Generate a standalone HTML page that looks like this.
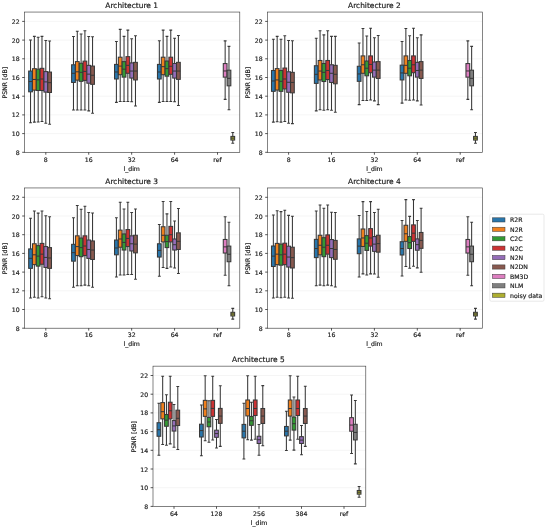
<!DOCTYPE html>
<html><head><meta charset="utf-8"><title>PSNR box plots</title>
<style>html,body{margin:0;padding:0;background:#fff}svg{display:block}</style></head>
<body>
<svg width="550" height="528" viewBox="0 0 550 528" font-family="'DejaVu Sans', 'Liberation Sans', sans-serif" font-size="6.20" fill="#1a1a1a" stroke="#1a1a1a" stroke-width="0.18">
<rect width="550" height="528" fill="#fff" stroke="none"/>
<g>
<line x1="24.60" x2="239.80" y1="152.30" y2="152.30" stroke="#efefef" stroke-width="0.6"/>
<line x1="24.60" x2="239.80" y1="133.60" y2="133.60" stroke="#efefef" stroke-width="0.6"/>
<line x1="24.60" x2="239.80" y1="114.90" y2="114.90" stroke="#efefef" stroke-width="0.6"/>
<line x1="24.60" x2="239.80" y1="96.20" y2="96.20" stroke="#efefef" stroke-width="0.6"/>
<line x1="24.60" x2="239.80" y1="77.50" y2="77.50" stroke="#efefef" stroke-width="0.6"/>
<line x1="24.60" x2="239.80" y1="58.80" y2="58.80" stroke="#efefef" stroke-width="0.6"/>
<line x1="24.60" x2="239.80" y1="40.10" y2="40.10" stroke="#efefef" stroke-width="0.6"/>
<line x1="24.60" x2="239.80" y1="21.40" y2="21.40" stroke="#efefef" stroke-width="0.6"/>
<g stroke="#383838" stroke-width="1.05" fill="none">
<path d="M30.54 40.01V71.05M30.54 91.81V122.66M29.12 40.01H31.96M29.12 122.66H31.96"/>
<rect x="28.67" y="71.05" width="3.74" height="20.76" fill="#2976ab"/>
<path d="M28.67 81.52H32.41"/>
</g>
<g stroke="#383838" stroke-width="1.05" fill="none">
<path d="M34.35 36.36V68.71M34.35 90.12V122.10M32.93 36.36H35.77M32.93 122.10H35.77"/>
<rect x="32.48" y="68.71" width="3.74" height="21.41" fill="#f0801d"/>
<path d="M32.48 79.46H36.22"/>
</g>
<g stroke="#383838" stroke-width="1.05" fill="none">
<path d="M38.17 37.30V69.18M38.17 90.50V121.91M36.75 37.30H39.59M36.75 121.91H39.59"/>
<rect x="36.30" y="69.18" width="3.74" height="21.32" fill="#339933"/>
<path d="M36.30 79.84H40.04"/>
</g>
<g stroke="#383838" stroke-width="1.05" fill="none">
<path d="M41.98 36.36V68.34M41.98 90.50V121.54M40.56 36.36H43.40M40.56 121.54H43.40"/>
<rect x="40.11" y="68.34" width="3.74" height="22.16" fill="#cb3233"/>
<path d="M40.11 79.00H43.85"/>
</g>
<g stroke="#383838" stroke-width="1.05" fill="none">
<path d="M45.80 40.47V71.61M45.80 92.09V123.32M44.38 40.47H47.22M44.38 123.32H47.22"/>
<rect x="43.93" y="71.61" width="3.74" height="20.48" fill="#946db8"/>
<path d="M43.93 81.89H47.67"/>
</g>
<g stroke="#383838" stroke-width="1.05" fill="none">
<path d="M49.62 40.94V72.08M49.62 92.46V124.16M48.20 40.94H51.04M48.20 124.16H51.04"/>
<rect x="47.75" y="72.08" width="3.74" height="20.38" fill="#88594f"/>
<path d="M47.75 82.64H51.49"/>
</g>
<g stroke="#383838" stroke-width="1.05" fill="none">
<path d="M73.47 36.55V64.78M73.47 82.46V109.94M72.05 36.55H74.89M72.05 109.94H74.89"/>
<rect x="71.60" y="64.78" width="3.74" height="17.67" fill="#2976ab"/>
<path d="M71.60 73.29H75.34"/>
</g>
<g stroke="#383838" stroke-width="1.05" fill="none">
<path d="M77.28 31.22V61.61M77.28 80.12V109.94M75.86 31.22H78.70M75.86 109.94H78.70"/>
<rect x="75.41" y="61.61" width="3.74" height="18.51" fill="#f0801d"/>
<path d="M75.41 71.80H79.15"/>
</g>
<g stroke="#383838" stroke-width="1.05" fill="none">
<path d="M81.10 33.93V63.29M81.10 81.33V109.94M79.68 33.93H82.52M79.68 109.94H82.52"/>
<rect x="79.23" y="63.29" width="3.74" height="18.05" fill="#339933"/>
<path d="M79.23 72.36H82.97"/>
</g>
<g stroke="#383838" stroke-width="1.05" fill="none">
<path d="M84.91 30.84V61.14M84.91 80.40V109.94M83.49 30.84H86.33M83.49 109.94H86.33"/>
<rect x="83.04" y="61.14" width="3.74" height="19.26" fill="#cb3233"/>
<path d="M83.04 71.42H86.78"/>
</g>
<g stroke="#383838" stroke-width="1.05" fill="none">
<path d="M88.73 36.55V65.35M88.73 83.20V110.88M87.31 36.55H90.15M87.31 110.88H90.15"/>
<rect x="86.86" y="65.35" width="3.74" height="17.86" fill="#946db8"/>
<path d="M86.86 74.13H90.60"/>
</g>
<g stroke="#383838" stroke-width="1.05" fill="none">
<path d="M92.55 36.73V66.09M92.55 84.33V113.31M91.13 36.73H93.97M91.13 113.31H93.97"/>
<rect x="90.68" y="66.09" width="3.74" height="18.23" fill="#88594f"/>
<path d="M90.68 75.26H94.42"/>
</g>
<g stroke="#383838" stroke-width="1.05" fill="none">
<path d="M116.40 41.50V64.41M116.40 79.00V102.37M114.98 41.50H117.82M114.98 102.37H117.82"/>
<rect x="114.53" y="64.41" width="3.74" height="14.59" fill="#2976ab"/>
<path d="M114.53 71.98H118.27"/>
</g>
<g stroke="#383838" stroke-width="1.05" fill="none">
<path d="M120.21 29.35V57.21M120.21 74.70V101.44M118.79 29.35H121.63M118.79 101.44H121.63"/>
<rect x="118.34" y="57.21" width="3.74" height="17.48" fill="#f0801d"/>
<path d="M118.34 66.09H122.08"/>
</g>
<g stroke="#383838" stroke-width="1.05" fill="none">
<path d="M124.03 36.36V61.61M124.03 77.13V101.44M122.61 36.36H125.45M122.61 101.44H125.45"/>
<rect x="122.16" y="61.61" width="3.74" height="15.52" fill="#339933"/>
<path d="M122.16 69.18H125.90"/>
</g>
<g stroke="#383838" stroke-width="1.05" fill="none">
<path d="M127.84 30.10V56.65M127.84 73.29V101.44M126.42 30.10H129.26M126.42 101.44H129.26"/>
<rect x="125.97" y="56.65" width="3.74" height="16.64" fill="#cb3233"/>
<path d="M125.97 65.35H129.71"/>
</g>
<g stroke="#383838" stroke-width="1.05" fill="none">
<path d="M131.66 38.79V62.91M131.66 78.06V101.81M130.24 38.79H133.08M130.24 101.81H133.08"/>
<rect x="129.79" y="62.91" width="3.74" height="15.15" fill="#946db8"/>
<path d="M129.79 71.05H133.53"/>
</g>
<g stroke="#383838" stroke-width="1.05" fill="none">
<path d="M135.48 35.80V62.35M135.48 79.93V105.92M134.06 35.80H136.90M134.06 105.92H136.90"/>
<rect x="133.61" y="62.35" width="3.74" height="17.58" fill="#88594f"/>
<path d="M133.61 71.05H137.35"/>
</g>
<g stroke="#383838" stroke-width="1.05" fill="none">
<path d="M159.33 40.75V64.41M159.33 79.00V102.37M157.91 40.75H160.75M157.91 102.37H160.75"/>
<rect x="157.46" y="64.41" width="3.74" height="14.59" fill="#2976ab"/>
<path d="M157.46 71.98H161.20"/>
</g>
<g stroke="#383838" stroke-width="1.05" fill="none">
<path d="M163.14 30.10V57.21M163.14 74.70V101.44M161.72 30.10H164.56M161.72 101.44H164.56"/>
<rect x="161.27" y="57.21" width="3.74" height="17.48" fill="#f0801d"/>
<path d="M161.27 66.65H165.01"/>
</g>
<g stroke="#383838" stroke-width="1.05" fill="none">
<path d="M166.96 36.36V61.04M166.96 76.19V101.44M165.54 36.36H168.38M165.54 101.44H168.38"/>
<rect x="165.09" y="61.04" width="3.74" height="15.15" fill="#339933"/>
<path d="M165.09 68.62H168.83"/>
</g>
<g stroke="#383838" stroke-width="1.05" fill="none">
<path d="M170.77 30.10V57.21M170.77 74.32V101.44M169.35 30.10H172.19M169.35 101.44H172.19"/>
<rect x="168.90" y="57.21" width="3.74" height="17.11" fill="#cb3233"/>
<path d="M168.90 66.28H172.64"/>
</g>
<g stroke="#383838" stroke-width="1.05" fill="none">
<path d="M174.59 38.23V63.48M174.59 78.06V101.81M173.17 38.23H176.01M173.17 101.81H176.01"/>
<rect x="172.72" y="63.48" width="3.74" height="14.59" fill="#946db8"/>
<path d="M172.72 71.05H176.46"/>
</g>
<g stroke="#383838" stroke-width="1.05" fill="none">
<path d="M178.41 35.43V62.35M178.41 79.37V105.55M176.99 35.43H179.83M176.99 105.55H179.83"/>
<rect x="176.54" y="62.35" width="3.74" height="17.02" fill="#88594f"/>
<path d="M176.54 71.05H180.28"/>
</g>
<g stroke="#383838" stroke-width="1.05" fill="none">
<path d="M225.15 40.85V63.57M225.15 77.13V99.38M223.73 40.85H226.57M223.73 99.38H226.57"/>
<rect x="223.28" y="63.57" width="3.74" height="13.56" fill="#dd7ec0"/>
<path d="M223.28 70.96H227.02"/>
</g>
<g stroke="#383838" stroke-width="1.05" fill="none">
<path d="M228.97 46.36V70.21M228.97 85.82V109.76M227.55 46.36H230.39M227.55 109.76H230.39"/>
<rect x="227.10" y="70.21" width="3.74" height="15.61" fill="#7f7f7f"/>
<path d="M227.10 78.34H230.84"/>
</g>
<g stroke="#383838" stroke-width="1.05" fill="none">
<path d="M232.78 132.48V136.41M232.78 140.05V143.23M231.36 132.48H234.20M231.36 143.23H234.20"/>
<rect x="230.91" y="136.41" width="3.74" height="3.65" fill="#adae30"/>
<path d="M230.91 138.09H234.65"/>
</g>
<rect x="24.60" y="12.05" width="215.20" height="140.25" fill="none" stroke="#333" stroke-width="0.6"/>
<line x1="22.20" x2="24.60" y1="152.30" y2="152.30" stroke="#2a2a2a" stroke-width="0.8"/>
<text x="19.70" y="154.85" text-anchor="end">8</text>
<line x1="22.20" x2="24.60" y1="133.60" y2="133.60" stroke="#2a2a2a" stroke-width="0.8"/>
<text x="19.70" y="136.15" text-anchor="end">10</text>
<line x1="22.20" x2="24.60" y1="114.90" y2="114.90" stroke="#2a2a2a" stroke-width="0.8"/>
<text x="19.70" y="117.45" text-anchor="end">12</text>
<line x1="22.20" x2="24.60" y1="96.20" y2="96.20" stroke="#2a2a2a" stroke-width="0.8"/>
<text x="19.70" y="98.75" text-anchor="end">14</text>
<line x1="22.20" x2="24.60" y1="77.50" y2="77.50" stroke="#2a2a2a" stroke-width="0.8"/>
<text x="19.70" y="80.05" text-anchor="end">16</text>
<line x1="22.20" x2="24.60" y1="58.80" y2="58.80" stroke="#2a2a2a" stroke-width="0.8"/>
<text x="19.70" y="61.35" text-anchor="end">18</text>
<line x1="22.20" x2="24.60" y1="40.10" y2="40.10" stroke="#2a2a2a" stroke-width="0.8"/>
<text x="19.70" y="42.65" text-anchor="end">20</text>
<line x1="22.20" x2="24.60" y1="21.40" y2="21.40" stroke="#2a2a2a" stroke-width="0.8"/>
<text x="19.70" y="23.95" text-anchor="end">22</text>
<line x1="45.80" x2="45.80" y1="152.30" y2="154.70" stroke="#2a2a2a" stroke-width="0.8"/>
<text x="45.80" y="161.70" text-anchor="middle">8</text>
<line x1="88.73" x2="88.73" y1="152.30" y2="154.70" stroke="#2a2a2a" stroke-width="0.8"/>
<text x="88.73" y="161.70" text-anchor="middle">16</text>
<line x1="131.66" x2="131.66" y1="152.30" y2="154.70" stroke="#2a2a2a" stroke-width="0.8"/>
<text x="131.66" y="161.70" text-anchor="middle">32</text>
<line x1="174.59" x2="174.59" y1="152.30" y2="154.70" stroke="#2a2a2a" stroke-width="0.8"/>
<text x="174.59" y="161.70" text-anchor="middle">64</text>
<line x1="217.52" x2="217.52" y1="152.30" y2="154.70" stroke="#2a2a2a" stroke-width="0.8"/>
<text x="217.52" y="161.70" text-anchor="middle">ref</text>
<text x="131.66" y="170.50" text-anchor="middle">l_dim</text>
<text transform="translate(7.40 82.68) rotate(-90)" text-anchor="middle">PSNR [dB]</text>
<text x="131.66" y="8.35" text-anchor="middle" font-size="7.45">Architecture 1</text>
</g>
<g>
<line x1="267.60" x2="482.30" y1="152.30" y2="152.30" stroke="#efefef" stroke-width="0.6"/>
<line x1="267.60" x2="482.30" y1="133.60" y2="133.60" stroke="#efefef" stroke-width="0.6"/>
<line x1="267.60" x2="482.30" y1="114.90" y2="114.90" stroke="#efefef" stroke-width="0.6"/>
<line x1="267.60" x2="482.30" y1="96.20" y2="96.20" stroke="#efefef" stroke-width="0.6"/>
<line x1="267.60" x2="482.30" y1="77.50" y2="77.50" stroke="#efefef" stroke-width="0.6"/>
<line x1="267.60" x2="482.30" y1="58.80" y2="58.80" stroke="#efefef" stroke-width="0.6"/>
<line x1="267.60" x2="482.30" y1="40.10" y2="40.10" stroke="#efefef" stroke-width="0.6"/>
<line x1="267.60" x2="482.30" y1="21.40" y2="21.40" stroke="#efefef" stroke-width="0.6"/>
<g stroke="#383838" stroke-width="1.05" fill="none">
<path d="M273.35 39.17V70.49M273.35 91.34V122.10M271.93 39.17H274.77M271.93 122.10H274.77"/>
<rect x="271.48" y="70.49" width="3.74" height="20.85" fill="#2976ab"/>
<path d="M271.48 80.96H275.22"/>
</g>
<g stroke="#383838" stroke-width="1.05" fill="none">
<path d="M277.16 36.36V68.62M277.16 90.03V121.73M275.74 36.36H278.58M275.74 121.73H278.58"/>
<rect x="275.29" y="68.62" width="3.74" height="21.41" fill="#f0801d"/>
<path d="M275.29 79.93H279.03"/>
</g>
<g stroke="#383838" stroke-width="1.05" fill="none">
<path d="M280.97 39.17V70.49M280.97 91.34V122.10M279.55 39.17H282.39M279.55 122.10H282.39"/>
<rect x="279.10" y="70.49" width="3.74" height="20.85" fill="#339933"/>
<path d="M279.10 81.33H282.84"/>
</g>
<g stroke="#383838" stroke-width="1.05" fill="none">
<path d="M284.79 35.80V68.06M284.79 88.91V121.54M283.37 35.80H286.21M283.37 121.54H286.21"/>
<rect x="282.92" y="68.06" width="3.74" height="20.85" fill="#cb3233"/>
<path d="M282.92 79.00H286.66"/>
</g>
<g stroke="#383838" stroke-width="1.05" fill="none">
<path d="M288.60 40.47V71.80M288.60 92.27V123.22M287.18 40.47H290.02M287.18 123.22H290.02"/>
<rect x="286.73" y="71.80" width="3.74" height="20.48" fill="#946db8"/>
<path d="M286.73 82.27H290.47"/>
</g>
<g stroke="#383838" stroke-width="1.05" fill="none">
<path d="M292.41 40.75V72.36M292.41 92.83V123.60M290.99 40.75H293.83M290.99 123.60H293.83"/>
<rect x="290.54" y="72.36" width="3.74" height="20.48" fill="#88594f"/>
<path d="M290.54 82.46H294.28"/>
</g>
<g stroke="#383838" stroke-width="1.05" fill="none">
<path d="M316.25 38.23V65.72M316.25 83.39V110.88M314.83 38.23H317.67M314.83 110.88H317.67"/>
<rect x="314.38" y="65.72" width="3.74" height="17.67" fill="#2976ab"/>
<path d="M314.38 74.32H318.12"/>
</g>
<g stroke="#383838" stroke-width="1.05" fill="none">
<path d="M320.06 30.66V60.48M320.06 79.93V109.76M318.64 30.66H321.48M318.64 109.76H321.48"/>
<rect x="318.19" y="60.48" width="3.74" height="19.45" fill="#f0801d"/>
<path d="M318.19 71.05H321.93"/>
</g>
<g stroke="#383838" stroke-width="1.05" fill="none">
<path d="M323.87 34.86V63.48M323.87 81.52V110.32M322.45 34.86H325.29M322.45 110.32H325.29"/>
<rect x="322.00" y="63.48" width="3.74" height="18.05" fill="#339933"/>
<path d="M322.00 72.36H325.74"/>
</g>
<g stroke="#383838" stroke-width="1.05" fill="none">
<path d="M327.69 30.66V60.48M327.69 79.56V109.76M326.27 30.66H329.11M326.27 109.76H329.11"/>
<rect x="325.82" y="60.48" width="3.74" height="19.07" fill="#cb3233"/>
<path d="M325.82 70.49H329.56"/>
</g>
<g stroke="#383838" stroke-width="1.05" fill="none">
<path d="M331.50 36.36V64.78M331.50 82.46V110.32M330.08 36.36H332.92M330.08 110.32H332.92"/>
<rect x="329.63" y="64.78" width="3.74" height="17.67" fill="#946db8"/>
<path d="M329.63 73.29H333.37"/>
</g>
<g stroke="#383838" stroke-width="1.05" fill="none">
<path d="M335.31 36.36V65.35M335.31 83.76V112.19M333.89 36.36H336.73M333.89 112.19H336.73"/>
<rect x="333.44" y="65.35" width="3.74" height="18.42" fill="#88594f"/>
<path d="M333.44 74.32H337.18"/>
</g>
<g stroke="#383838" stroke-width="1.05" fill="none">
<path d="M359.15 43.00V66.28M359.15 81.33V104.62M357.73 43.00H360.57M357.73 104.62H360.57"/>
<rect x="357.28" y="66.28" width="3.74" height="15.05" fill="#2976ab"/>
<path d="M357.28 73.95H361.02"/>
</g>
<g stroke="#383838" stroke-width="1.05" fill="none">
<path d="M362.96 28.41V55.90M362.96 73.29V100.50M361.54 28.41H364.38M361.54 100.50H364.38"/>
<rect x="361.09" y="55.90" width="3.74" height="17.39" fill="#f0801d"/>
<path d="M361.09 64.78H364.83"/>
</g>
<g stroke="#383838" stroke-width="1.05" fill="none">
<path d="M366.77 35.99V61.04M366.77 75.82V100.50M365.35 35.99H368.19M365.35 100.50H368.19"/>
<rect x="364.90" y="61.04" width="3.74" height="14.77" fill="#339933"/>
<path d="M364.90 68.24H368.64"/>
</g>
<g stroke="#383838" stroke-width="1.05" fill="none">
<path d="M370.59 28.23V55.90M370.59 72.73V99.94M369.17 28.23H372.01M369.17 99.94H372.01"/>
<rect x="368.72" y="55.90" width="3.74" height="16.83" fill="#cb3233"/>
<path d="M368.72 64.41H372.46"/>
</g>
<g stroke="#383838" stroke-width="1.05" fill="none">
<path d="M374.40 37.67V61.98M374.40 77.13V100.88M372.98 37.67H375.82M372.98 100.88H375.82"/>
<rect x="372.53" y="61.98" width="3.74" height="15.15" fill="#946db8"/>
<path d="M372.53 70.11H376.27"/>
</g>
<g stroke="#383838" stroke-width="1.05" fill="none">
<path d="M378.21 35.43V61.61M378.21 78.44V104.62M376.79 35.43H379.63M376.79 104.62H379.63"/>
<rect x="376.34" y="61.61" width="3.74" height="16.83" fill="#88594f"/>
<path d="M376.34 70.11H380.08"/>
</g>
<g stroke="#383838" stroke-width="1.05" fill="none">
<path d="M402.05 41.50V65.16M402.05 79.93V103.12M400.63 41.50H403.47M400.63 103.12H403.47"/>
<rect x="400.18" y="65.16" width="3.74" height="14.77" fill="#2976ab"/>
<path d="M400.18 72.92H403.92"/>
</g>
<g stroke="#383838" stroke-width="1.05" fill="none">
<path d="M405.86 28.41V55.90M405.86 73.29V99.94M404.44 28.41H407.28M404.44 99.94H407.28"/>
<rect x="403.99" y="55.90" width="3.74" height="17.39" fill="#f0801d"/>
<path d="M403.99 65.35H407.73"/>
</g>
<g stroke="#383838" stroke-width="1.05" fill="none">
<path d="M409.67 35.80V60.48M409.67 75.82V100.31M408.25 35.80H411.09M408.25 100.31H411.09"/>
<rect x="407.80" y="60.48" width="3.74" height="15.33" fill="#339933"/>
<path d="M407.80 68.24H411.54"/>
</g>
<g stroke="#383838" stroke-width="1.05" fill="none">
<path d="M413.49 28.23V55.90M413.49 72.73V99.94M412.07 28.23H414.91M412.07 99.94H414.91"/>
<rect x="411.62" y="55.90" width="3.74" height="16.83" fill="#cb3233"/>
<path d="M411.62 64.78H415.36"/>
</g>
<g stroke="#383838" stroke-width="1.05" fill="none">
<path d="M417.30 37.67V62.35M417.30 77.13V100.88M415.88 37.67H418.72M415.88 100.88H418.72"/>
<rect x="415.43" y="62.35" width="3.74" height="14.77" fill="#946db8"/>
<path d="M415.43 70.49H419.17"/>
</g>
<g stroke="#383838" stroke-width="1.05" fill="none">
<path d="M421.11 34.86V61.61M421.11 78.44V104.99M419.69 34.86H422.53M419.69 104.99H422.53"/>
<rect x="419.24" y="61.61" width="3.74" height="16.83" fill="#88594f"/>
<path d="M419.24 70.11H422.98"/>
</g>
<g stroke="#383838" stroke-width="1.05" fill="none">
<path d="M467.83 40.85V63.57M467.83 77.13V99.38M466.41 40.85H469.25M466.41 99.38H469.25"/>
<rect x="465.96" y="63.57" width="3.74" height="13.56" fill="#dd7ec0"/>
<path d="M465.96 70.96H469.70"/>
</g>
<g stroke="#383838" stroke-width="1.05" fill="none">
<path d="M471.64 46.36V70.21M471.64 85.82V109.76M470.22 46.36H473.06M470.22 109.76H473.06"/>
<rect x="469.77" y="70.21" width="3.74" height="15.61" fill="#7f7f7f"/>
<path d="M469.77 78.34H473.51"/>
</g>
<g stroke="#383838" stroke-width="1.05" fill="none">
<path d="M475.45 132.48V136.41M475.45 140.05V143.23M474.03 132.48H476.87M474.03 143.23H476.87"/>
<rect x="473.58" y="136.41" width="3.74" height="3.65" fill="#adae30"/>
<path d="M473.58 138.09H477.32"/>
</g>
<rect x="267.60" y="12.05" width="214.70" height="140.25" fill="none" stroke="#333" stroke-width="0.6"/>
<line x1="265.20" x2="267.60" y1="152.30" y2="152.30" stroke="#2a2a2a" stroke-width="0.8"/>
<text x="262.70" y="154.85" text-anchor="end">8</text>
<line x1="265.20" x2="267.60" y1="133.60" y2="133.60" stroke="#2a2a2a" stroke-width="0.8"/>
<text x="262.70" y="136.15" text-anchor="end">10</text>
<line x1="265.20" x2="267.60" y1="114.90" y2="114.90" stroke="#2a2a2a" stroke-width="0.8"/>
<text x="262.70" y="117.45" text-anchor="end">12</text>
<line x1="265.20" x2="267.60" y1="96.20" y2="96.20" stroke="#2a2a2a" stroke-width="0.8"/>
<text x="262.70" y="98.75" text-anchor="end">14</text>
<line x1="265.20" x2="267.60" y1="77.50" y2="77.50" stroke="#2a2a2a" stroke-width="0.8"/>
<text x="262.70" y="80.05" text-anchor="end">16</text>
<line x1="265.20" x2="267.60" y1="58.80" y2="58.80" stroke="#2a2a2a" stroke-width="0.8"/>
<text x="262.70" y="61.35" text-anchor="end">18</text>
<line x1="265.20" x2="267.60" y1="40.10" y2="40.10" stroke="#2a2a2a" stroke-width="0.8"/>
<text x="262.70" y="42.65" text-anchor="end">20</text>
<line x1="265.20" x2="267.60" y1="21.40" y2="21.40" stroke="#2a2a2a" stroke-width="0.8"/>
<text x="262.70" y="23.95" text-anchor="end">22</text>
<line x1="288.60" x2="288.60" y1="152.30" y2="154.70" stroke="#2a2a2a" stroke-width="0.8"/>
<text x="288.60" y="161.70" text-anchor="middle">8</text>
<line x1="331.50" x2="331.50" y1="152.30" y2="154.70" stroke="#2a2a2a" stroke-width="0.8"/>
<text x="331.50" y="161.70" text-anchor="middle">16</text>
<line x1="374.40" x2="374.40" y1="152.30" y2="154.70" stroke="#2a2a2a" stroke-width="0.8"/>
<text x="374.40" y="161.70" text-anchor="middle">32</text>
<line x1="417.30" x2="417.30" y1="152.30" y2="154.70" stroke="#2a2a2a" stroke-width="0.8"/>
<text x="417.30" y="161.70" text-anchor="middle">64</text>
<line x1="460.20" x2="460.20" y1="152.30" y2="154.70" stroke="#2a2a2a" stroke-width="0.8"/>
<text x="460.20" y="161.70" text-anchor="middle">ref</text>
<text x="374.40" y="170.50" text-anchor="middle">l_dim</text>
<text transform="translate(250.40 82.68) rotate(-90)" text-anchor="middle">PSNR [dB]</text>
<text x="374.40" y="8.35" text-anchor="middle" font-size="7.45">Architecture 2</text>
</g>
<g>
<line x1="24.60" x2="239.80" y1="328.20" y2="328.20" stroke="#efefef" stroke-width="0.6"/>
<line x1="24.60" x2="239.80" y1="309.50" y2="309.50" stroke="#efefef" stroke-width="0.6"/>
<line x1="24.60" x2="239.80" y1="290.80" y2="290.80" stroke="#efefef" stroke-width="0.6"/>
<line x1="24.60" x2="239.80" y1="272.10" y2="272.10" stroke="#efefef" stroke-width="0.6"/>
<line x1="24.60" x2="239.80" y1="253.40" y2="253.40" stroke="#efefef" stroke-width="0.6"/>
<line x1="24.60" x2="239.80" y1="234.70" y2="234.70" stroke="#efefef" stroke-width="0.6"/>
<line x1="24.60" x2="239.80" y1="216.00" y2="216.00" stroke="#efefef" stroke-width="0.6"/>
<line x1="24.60" x2="239.80" y1="197.30" y2="197.30" stroke="#efefef" stroke-width="0.6"/>
<g stroke="#383838" stroke-width="1.05" fill="none">
<path d="M30.54 218.24V248.91M30.54 268.36V298.09M29.12 218.24H31.96M29.12 298.09H31.96"/>
<rect x="28.67" y="248.91" width="3.74" height="19.45" fill="#2976ab"/>
<path d="M28.67 258.36H32.41"/>
</g>
<g stroke="#383838" stroke-width="1.05" fill="none">
<path d="M34.35 211.04V243.77M34.35 264.62V297.34M32.93 211.04H35.77M32.93 297.34H35.77"/>
<rect x="32.48" y="243.77" width="3.74" height="20.85" fill="#f0801d"/>
<path d="M32.48 254.80H36.22"/>
</g>
<g stroke="#383838" stroke-width="1.05" fill="none">
<path d="M38.17 213.10V245.64M38.17 266.12V298.09M36.75 213.10H39.59M36.75 298.09H39.59"/>
<rect x="36.30" y="245.64" width="3.74" height="20.48" fill="#339933"/>
<path d="M36.30 256.11H40.04"/>
</g>
<g stroke="#383838" stroke-width="1.05" fill="none">
<path d="M41.98 211.04V243.40M41.98 264.25V296.78M40.56 211.04H43.40M40.56 296.78H43.40"/>
<rect x="40.11" y="243.40" width="3.74" height="20.85" fill="#cb3233"/>
<path d="M40.11 254.15H43.85"/>
</g>
<g stroke="#383838" stroke-width="1.05" fill="none">
<path d="M45.80 215.72V246.57M45.80 267.43V298.09M44.38 215.72H47.22M44.38 298.09H47.22"/>
<rect x="43.93" y="246.57" width="3.74" height="20.85" fill="#946db8"/>
<path d="M43.93 257.42H47.67"/>
</g>
<g stroke="#383838" stroke-width="1.05" fill="none">
<path d="M49.62 216.65V247.60M49.62 268.36V298.65M48.20 216.65H51.04M48.20 298.65H51.04"/>
<rect x="47.75" y="247.60" width="3.74" height="20.76" fill="#88594f"/>
<path d="M47.75 257.98H51.49"/>
</g>
<g stroke="#383838" stroke-width="1.05" fill="none">
<path d="M73.47 217.68V244.33M73.47 261.16V287.34M72.05 217.68H74.89M72.05 287.34H74.89"/>
<rect x="71.60" y="244.33" width="3.74" height="16.83" fill="#2976ab"/>
<path d="M71.60 252.65H75.34"/>
</g>
<g stroke="#383838" stroke-width="1.05" fill="none">
<path d="M77.28 205.53V235.82M77.28 255.55V285.84M75.86 205.53H78.70M75.86 285.84H78.70"/>
<rect x="75.41" y="235.82" width="3.74" height="19.73" fill="#f0801d"/>
<path d="M75.41 246.57H79.15"/>
</g>
<g stroke="#383838" stroke-width="1.05" fill="none">
<path d="M81.10 209.27V238.07M81.10 256.67V285.84M79.68 209.27H82.52M79.68 285.84H82.52"/>
<rect x="79.23" y="238.07" width="3.74" height="18.61" fill="#339933"/>
<path d="M79.23 247.60H82.97"/>
</g>
<g stroke="#383838" stroke-width="1.05" fill="none">
<path d="M84.91 206.28V235.82M84.91 255.55V285.10M83.49 206.28H86.33M83.49 285.10H86.33"/>
<rect x="83.04" y="235.82" width="3.74" height="19.73" fill="#cb3233"/>
<path d="M83.04 246.01H86.78"/>
</g>
<g stroke="#383838" stroke-width="1.05" fill="none">
<path d="M88.73 212.54V240.03M88.73 258.36V285.84M87.31 212.54H90.15M87.31 285.84H90.15"/>
<rect x="86.86" y="240.03" width="3.74" height="18.33" fill="#946db8"/>
<path d="M86.86 249.47H90.60"/>
</g>
<g stroke="#383838" stroke-width="1.05" fill="none">
<path d="M92.55 212.91V240.96M92.55 259.48V287.34M91.13 212.91H93.97M91.13 287.34H93.97"/>
<rect x="90.68" y="240.96" width="3.74" height="18.51" fill="#88594f"/>
<path d="M90.68 250.03H94.42"/>
</g>
<g stroke="#383838" stroke-width="1.05" fill="none">
<path d="M116.40 217.68V240.03M116.40 254.80V276.96M114.98 217.68H117.82M114.98 276.96H117.82"/>
<rect x="114.53" y="240.03" width="3.74" height="14.77" fill="#2976ab"/>
<path d="M114.53 247.98H118.27"/>
</g>
<g stroke="#383838" stroke-width="1.05" fill="none">
<path d="M120.21 202.16V230.12M120.21 247.23V275.00M118.79 202.16H121.63M118.79 275.00H121.63"/>
<rect x="118.34" y="230.12" width="3.74" height="17.11" fill="#f0801d"/>
<path d="M118.34 239.00H122.08"/>
</g>
<g stroke="#383838" stroke-width="1.05" fill="none">
<path d="M124.03 209.08V233.95M124.03 250.03V275.00M122.61 209.08H125.45M122.61 275.00H125.45"/>
<rect x="122.16" y="233.95" width="3.74" height="16.08" fill="#339933"/>
<path d="M122.16 242.46H125.90"/>
</g>
<g stroke="#383838" stroke-width="1.05" fill="none">
<path d="M127.84 202.16V229.56M127.84 246.57V274.44M126.42 202.16H129.26M126.42 274.44H129.26"/>
<rect x="125.97" y="229.56" width="3.74" height="17.02" fill="#cb3233"/>
<path d="M125.97 238.44H129.71"/>
</g>
<g stroke="#383838" stroke-width="1.05" fill="none">
<path d="M131.66 212.54V235.82M131.66 250.97V274.44M130.24 212.54H133.08M130.24 274.44H133.08"/>
<rect x="129.79" y="235.82" width="3.74" height="15.15" fill="#946db8"/>
<path d="M129.79 243.77H133.53"/>
</g>
<g stroke="#383838" stroke-width="1.05" fill="none">
<path d="M135.48 209.08V235.26M135.48 252.84V279.21M134.06 209.08H136.90M134.06 279.21H136.90"/>
<rect x="133.61" y="235.26" width="3.74" height="17.58" fill="#88594f"/>
<path d="M133.61 244.14H137.35"/>
</g>
<g stroke="#383838" stroke-width="1.05" fill="none">
<path d="M159.33 224.41V243.77M159.33 257.05V276.31M157.91 224.41H160.75M157.91 276.31H160.75"/>
<rect x="157.46" y="243.77" width="3.74" height="13.28" fill="#2976ab"/>
<path d="M157.46 250.41H161.20"/>
</g>
<g stroke="#383838" stroke-width="1.05" fill="none">
<path d="M163.14 201.41V226.75M163.14 241.90V267.43M161.72 201.41H164.56M161.72 267.43H164.56"/>
<rect x="161.27" y="226.75" width="3.74" height="15.15" fill="#f0801d"/>
<path d="M161.27 235.26H165.01"/>
</g>
<g stroke="#383838" stroke-width="1.05" fill="none">
<path d="M166.96 213.85V235.26M166.96 247.60V268.36M165.54 213.85H168.38M165.54 268.36H168.38"/>
<rect x="165.09" y="235.26" width="3.74" height="12.34" fill="#339933"/>
<path d="M165.09 241.53H168.83"/>
</g>
<g stroke="#383838" stroke-width="1.05" fill="none">
<path d="M170.77 201.41V226.38M170.77 241.90V267.05M169.35 201.41H172.19M169.35 267.05H172.19"/>
<rect x="168.90" y="226.38" width="3.74" height="15.52" fill="#cb3233"/>
<path d="M168.90 234.70H172.64"/>
</g>
<g stroke="#383838" stroke-width="1.05" fill="none">
<path d="M174.59 221.05V239.00M174.59 250.03V267.99M173.17 221.05H176.01M173.17 267.99H176.01"/>
<rect x="172.72" y="239.00" width="3.74" height="11.03" fill="#946db8"/>
<path d="M172.72 244.70H176.46"/>
</g>
<g stroke="#383838" stroke-width="1.05" fill="none">
<path d="M178.41 208.52V232.83M178.41 249.47V273.50M176.99 208.52H179.83M176.99 273.50H179.83"/>
<rect x="176.54" y="232.83" width="3.74" height="16.64" fill="#88594f"/>
<path d="M176.54 241.34H180.28"/>
</g>
<g stroke="#383838" stroke-width="1.05" fill="none">
<path d="M225.15 216.75V239.47M225.15 253.03V275.28M223.73 216.75H226.57M223.73 275.28H226.57"/>
<rect x="223.28" y="239.47" width="3.74" height="13.56" fill="#dd7ec0"/>
<path d="M223.28 246.86H227.02"/>
</g>
<g stroke="#383838" stroke-width="1.05" fill="none">
<path d="M228.97 222.26V246.11M228.97 261.72V285.66M227.55 222.26H230.39M227.55 285.66H230.39"/>
<rect x="227.10" y="246.11" width="3.74" height="15.61" fill="#7f7f7f"/>
<path d="M227.10 254.24H230.84"/>
</g>
<g stroke="#383838" stroke-width="1.05" fill="none">
<path d="M232.78 308.38V312.31M232.78 315.95V319.13M231.36 308.38H234.20M231.36 319.13H234.20"/>
<rect x="230.91" y="312.31" width="3.74" height="3.65" fill="#adae30"/>
<path d="M230.91 313.99H234.65"/>
</g>
<rect x="24.60" y="187.95" width="215.20" height="140.25" fill="none" stroke="#333" stroke-width="0.6"/>
<line x1="22.20" x2="24.60" y1="328.20" y2="328.20" stroke="#2a2a2a" stroke-width="0.8"/>
<text x="19.70" y="330.75" text-anchor="end">8</text>
<line x1="22.20" x2="24.60" y1="309.50" y2="309.50" stroke="#2a2a2a" stroke-width="0.8"/>
<text x="19.70" y="312.05" text-anchor="end">10</text>
<line x1="22.20" x2="24.60" y1="290.80" y2="290.80" stroke="#2a2a2a" stroke-width="0.8"/>
<text x="19.70" y="293.35" text-anchor="end">12</text>
<line x1="22.20" x2="24.60" y1="272.10" y2="272.10" stroke="#2a2a2a" stroke-width="0.8"/>
<text x="19.70" y="274.65" text-anchor="end">14</text>
<line x1="22.20" x2="24.60" y1="253.40" y2="253.40" stroke="#2a2a2a" stroke-width="0.8"/>
<text x="19.70" y="255.95" text-anchor="end">16</text>
<line x1="22.20" x2="24.60" y1="234.70" y2="234.70" stroke="#2a2a2a" stroke-width="0.8"/>
<text x="19.70" y="237.25" text-anchor="end">18</text>
<line x1="22.20" x2="24.60" y1="216.00" y2="216.00" stroke="#2a2a2a" stroke-width="0.8"/>
<text x="19.70" y="218.55" text-anchor="end">20</text>
<line x1="22.20" x2="24.60" y1="197.30" y2="197.30" stroke="#2a2a2a" stroke-width="0.8"/>
<text x="19.70" y="199.85" text-anchor="end">22</text>
<line x1="45.80" x2="45.80" y1="328.20" y2="330.60" stroke="#2a2a2a" stroke-width="0.8"/>
<text x="45.80" y="337.20" text-anchor="middle">8</text>
<line x1="88.73" x2="88.73" y1="328.20" y2="330.60" stroke="#2a2a2a" stroke-width="0.8"/>
<text x="88.73" y="337.20" text-anchor="middle">16</text>
<line x1="131.66" x2="131.66" y1="328.20" y2="330.60" stroke="#2a2a2a" stroke-width="0.8"/>
<text x="131.66" y="337.20" text-anchor="middle">32</text>
<line x1="174.59" x2="174.59" y1="328.20" y2="330.60" stroke="#2a2a2a" stroke-width="0.8"/>
<text x="174.59" y="337.20" text-anchor="middle">64</text>
<line x1="217.52" x2="217.52" y1="328.20" y2="330.60" stroke="#2a2a2a" stroke-width="0.8"/>
<text x="217.52" y="337.20" text-anchor="middle">ref</text>
<text x="131.66" y="346.40" text-anchor="middle">l_dim</text>
<text transform="translate(7.40 258.57) rotate(-90)" text-anchor="middle">PSNR [dB]</text>
<text x="131.66" y="183.95" text-anchor="middle" font-size="7.45">Architecture 3</text>
</g>
<g>
<line x1="267.60" x2="482.30" y1="328.20" y2="328.20" stroke="#efefef" stroke-width="0.6"/>
<line x1="267.60" x2="482.30" y1="309.50" y2="309.50" stroke="#efefef" stroke-width="0.6"/>
<line x1="267.60" x2="482.30" y1="290.80" y2="290.80" stroke="#efefef" stroke-width="0.6"/>
<line x1="267.60" x2="482.30" y1="272.10" y2="272.10" stroke="#efefef" stroke-width="0.6"/>
<line x1="267.60" x2="482.30" y1="253.40" y2="253.40" stroke="#efefef" stroke-width="0.6"/>
<line x1="267.60" x2="482.30" y1="234.70" y2="234.70" stroke="#efefef" stroke-width="0.6"/>
<line x1="267.60" x2="482.30" y1="216.00" y2="216.00" stroke="#efefef" stroke-width="0.6"/>
<line x1="267.60" x2="482.30" y1="197.30" y2="197.30" stroke="#efefef" stroke-width="0.6"/>
<g stroke="#383838" stroke-width="1.05" fill="none">
<path d="M273.35 214.97V246.01M273.35 266.49V298.09M271.93 214.97H274.77M271.93 298.09H274.77"/>
<rect x="271.48" y="246.01" width="3.74" height="20.48" fill="#2976ab"/>
<path d="M271.48 256.11H275.22"/>
</g>
<g stroke="#383838" stroke-width="1.05" fill="none">
<path d="M277.16 210.67V243.40M277.16 264.62V297.34M275.74 210.67H278.58M275.74 297.34H278.58"/>
<rect x="275.29" y="243.40" width="3.74" height="21.22" fill="#f0801d"/>
<path d="M275.29 254.15H279.03"/>
</g>
<g stroke="#383838" stroke-width="1.05" fill="none">
<path d="M280.97 211.61V244.14M280.97 265.18V297.72M279.55 211.61H282.39M279.55 297.72H282.39"/>
<rect x="279.10" y="244.14" width="3.74" height="21.04" fill="#339933"/>
<path d="M279.10 254.80H282.84"/>
</g>
<g stroke="#383838" stroke-width="1.05" fill="none">
<path d="M284.79 210.30V243.21M284.79 264.62V297.34M283.37 210.30H286.21M283.37 297.34H286.21"/>
<rect x="282.92" y="243.21" width="3.74" height="21.41" fill="#cb3233"/>
<path d="M282.92 254.15H286.66"/>
</g>
<g stroke="#383838" stroke-width="1.05" fill="none">
<path d="M288.60 215.35V246.20M288.60 267.05V298.09M287.18 215.35H290.02M287.18 298.09H290.02"/>
<rect x="286.73" y="246.20" width="3.74" height="20.85" fill="#946db8"/>
<path d="M286.73 257.05H290.47"/>
</g>
<g stroke="#383838" stroke-width="1.05" fill="none">
<path d="M292.41 216.28V247.23M292.41 267.99V298.28M290.99 216.28H293.83M290.99 298.28H293.83"/>
<rect x="290.54" y="247.23" width="3.74" height="20.76" fill="#88594f"/>
<path d="M290.54 257.61H294.28"/>
</g>
<g stroke="#383838" stroke-width="1.05" fill="none">
<path d="M316.25 211.04V239.38M316.25 257.61V285.84M314.83 211.04H317.67M314.83 285.84H317.67"/>
<rect x="314.38" y="239.38" width="3.74" height="18.23" fill="#2976ab"/>
<path d="M314.38 248.54H318.12"/>
</g>
<g stroke="#383838" stroke-width="1.05" fill="none">
<path d="M320.06 204.97V235.26M320.06 254.80V285.10M318.64 204.97H321.48M318.64 285.10H321.48"/>
<rect x="318.19" y="235.26" width="3.74" height="19.54" fill="#f0801d"/>
<path d="M318.19 245.27H321.93"/>
</g>
<g stroke="#383838" stroke-width="1.05" fill="none">
<path d="M323.87 208.33V237.69M323.87 256.67V285.84M322.45 208.33H325.29M322.45 285.84H325.29"/>
<rect x="322.00" y="237.69" width="3.74" height="18.98" fill="#339933"/>
<path d="M322.00 247.23H325.74"/>
</g>
<g stroke="#383838" stroke-width="1.05" fill="none">
<path d="M327.69 204.97V234.89M327.69 254.15V285.10M326.27 204.97H329.11M326.27 285.10H329.11"/>
<rect x="325.82" y="234.89" width="3.74" height="19.26" fill="#cb3233"/>
<path d="M325.82 245.27H329.56"/>
</g>
<g stroke="#383838" stroke-width="1.05" fill="none">
<path d="M331.50 212.17V239.56M331.50 257.61V285.84M330.08 212.17H332.92M330.08 285.84H332.92"/>
<rect x="329.63" y="239.56" width="3.74" height="18.05" fill="#946db8"/>
<path d="M329.63 248.54H333.37"/>
</g>
<g stroke="#383838" stroke-width="1.05" fill="none">
<path d="M335.31 212.54V240.40M335.31 259.29V286.97M333.89 212.54H336.73M333.89 286.97H336.73"/>
<rect x="333.44" y="240.40" width="3.74" height="18.89" fill="#88594f"/>
<path d="M333.44 249.47H337.18"/>
</g>
<g stroke="#383838" stroke-width="1.05" fill="none">
<path d="M359.15 215.44V238.91M359.15 253.68V276.96M357.73 215.44H360.57M357.73 276.96H360.57"/>
<rect x="357.28" y="238.91" width="3.74" height="14.77" fill="#2976ab"/>
<path d="M357.28 246.11H361.02"/>
</g>
<g stroke="#383838" stroke-width="1.05" fill="none">
<path d="M362.96 201.60V229.00M362.96 246.48V273.88M361.54 201.60H364.38M361.54 273.88H364.38"/>
<rect x="361.09" y="229.00" width="3.74" height="17.48" fill="#f0801d"/>
<path d="M361.09 237.97H364.83"/>
</g>
<g stroke="#383838" stroke-width="1.05" fill="none">
<path d="M366.77 211.42V235.63M366.77 250.41V275.09M365.35 211.42H368.19M365.35 275.09H368.19"/>
<rect x="364.90" y="235.63" width="3.74" height="14.77" fill="#339933"/>
<path d="M364.90 243.21H368.64"/>
</g>
<g stroke="#383838" stroke-width="1.05" fill="none">
<path d="M370.59 201.60V228.62M370.59 246.11V273.88M369.17 201.60H372.01M369.17 273.88H372.01"/>
<rect x="368.72" y="228.62" width="3.74" height="17.48" fill="#cb3233"/>
<path d="M368.72 237.97H372.46"/>
</g>
<g stroke="#383838" stroke-width="1.05" fill="none">
<path d="M374.40 212.54V236.57M374.40 251.34V274.06M372.98 212.54H375.82M372.98 274.06H375.82"/>
<rect x="372.53" y="236.57" width="3.74" height="14.77" fill="#946db8"/>
<path d="M372.53 244.14H376.27"/>
</g>
<g stroke="#383838" stroke-width="1.05" fill="none">
<path d="M378.21 209.17V235.26M378.21 252.18V277.34M376.79 209.17H379.63M376.79 277.34H379.63"/>
<rect x="376.34" y="235.26" width="3.74" height="16.92" fill="#88594f"/>
<path d="M376.34 243.58H380.08"/>
</g>
<g stroke="#383838" stroke-width="1.05" fill="none">
<path d="M402.05 220.49V241.71M402.05 254.99V276.03M400.63 220.49H403.47M400.63 276.03H403.47"/>
<rect x="400.18" y="241.71" width="3.74" height="13.28" fill="#2976ab"/>
<path d="M400.18 248.54H403.92"/>
</g>
<g stroke="#383838" stroke-width="1.05" fill="none">
<path d="M405.86 199.64V225.26M405.86 241.34V266.49M404.44 199.64H407.28M404.44 266.49H407.28"/>
<rect x="403.99" y="225.26" width="3.74" height="16.08" fill="#f0801d"/>
<path d="M403.99 233.76H407.73"/>
</g>
<g stroke="#383838" stroke-width="1.05" fill="none">
<path d="M409.67 216.37V236.57M409.67 248.54V268.27M408.25 216.37H411.09M408.25 268.27H411.09"/>
<rect x="407.80" y="236.57" width="3.74" height="11.97" fill="#339933"/>
<path d="M407.80 242.65H411.54"/>
</g>
<g stroke="#383838" stroke-width="1.05" fill="none">
<path d="M413.49 199.64V224.88M413.49 241.34V266.30M412.07 199.64H414.91M412.07 266.30H414.91"/>
<rect x="411.62" y="224.88" width="3.74" height="16.46" fill="#cb3233"/>
<path d="M411.62 233.20H415.36"/>
</g>
<g stroke="#383838" stroke-width="1.05" fill="none">
<path d="M417.30 220.49V238.91M417.30 250.22V267.89M415.88 220.49H418.72M415.88 267.89H418.72"/>
<rect x="415.43" y="238.91" width="3.74" height="11.31" fill="#946db8"/>
<path d="M415.43 244.61H419.17"/>
</g>
<g stroke="#383838" stroke-width="1.05" fill="none">
<path d="M421.11 208.24V232.46M421.11 248.35V272.19M419.69 208.24H422.53M419.69 272.19H422.53"/>
<rect x="419.24" y="232.46" width="3.74" height="15.89" fill="#88594f"/>
<path d="M419.24 240.40H422.98"/>
</g>
<g stroke="#383838" stroke-width="1.05" fill="none">
<path d="M467.83 216.75V239.47M467.83 253.03V275.28M466.41 216.75H469.25M466.41 275.28H469.25"/>
<rect x="465.96" y="239.47" width="3.74" height="13.56" fill="#dd7ec0"/>
<path d="M465.96 246.86H469.70"/>
</g>
<g stroke="#383838" stroke-width="1.05" fill="none">
<path d="M471.64 222.26V246.11M471.64 261.72V285.66M470.22 222.26H473.06M470.22 285.66H473.06"/>
<rect x="469.77" y="246.11" width="3.74" height="15.61" fill="#7f7f7f"/>
<path d="M469.77 254.24H473.51"/>
</g>
<g stroke="#383838" stroke-width="1.05" fill="none">
<path d="M475.45 308.38V312.31M475.45 315.95V319.13M474.03 308.38H476.87M474.03 319.13H476.87"/>
<rect x="473.58" y="312.31" width="3.74" height="3.65" fill="#adae30"/>
<path d="M473.58 313.99H477.32"/>
</g>
<rect x="267.60" y="187.95" width="214.70" height="140.25" fill="none" stroke="#333" stroke-width="0.6"/>
<line x1="265.20" x2="267.60" y1="328.20" y2="328.20" stroke="#2a2a2a" stroke-width="0.8"/>
<text x="262.70" y="330.75" text-anchor="end">8</text>
<line x1="265.20" x2="267.60" y1="309.50" y2="309.50" stroke="#2a2a2a" stroke-width="0.8"/>
<text x="262.70" y="312.05" text-anchor="end">10</text>
<line x1="265.20" x2="267.60" y1="290.80" y2="290.80" stroke="#2a2a2a" stroke-width="0.8"/>
<text x="262.70" y="293.35" text-anchor="end">12</text>
<line x1="265.20" x2="267.60" y1="272.10" y2="272.10" stroke="#2a2a2a" stroke-width="0.8"/>
<text x="262.70" y="274.65" text-anchor="end">14</text>
<line x1="265.20" x2="267.60" y1="253.40" y2="253.40" stroke="#2a2a2a" stroke-width="0.8"/>
<text x="262.70" y="255.95" text-anchor="end">16</text>
<line x1="265.20" x2="267.60" y1="234.70" y2="234.70" stroke="#2a2a2a" stroke-width="0.8"/>
<text x="262.70" y="237.25" text-anchor="end">18</text>
<line x1="265.20" x2="267.60" y1="216.00" y2="216.00" stroke="#2a2a2a" stroke-width="0.8"/>
<text x="262.70" y="218.55" text-anchor="end">20</text>
<line x1="265.20" x2="267.60" y1="197.30" y2="197.30" stroke="#2a2a2a" stroke-width="0.8"/>
<text x="262.70" y="199.85" text-anchor="end">22</text>
<line x1="288.60" x2="288.60" y1="328.20" y2="330.60" stroke="#2a2a2a" stroke-width="0.8"/>
<text x="288.60" y="337.20" text-anchor="middle">8</text>
<line x1="331.50" x2="331.50" y1="328.20" y2="330.60" stroke="#2a2a2a" stroke-width="0.8"/>
<text x="331.50" y="337.20" text-anchor="middle">16</text>
<line x1="374.40" x2="374.40" y1="328.20" y2="330.60" stroke="#2a2a2a" stroke-width="0.8"/>
<text x="374.40" y="337.20" text-anchor="middle">32</text>
<line x1="417.30" x2="417.30" y1="328.20" y2="330.60" stroke="#2a2a2a" stroke-width="0.8"/>
<text x="417.30" y="337.20" text-anchor="middle">64</text>
<line x1="460.20" x2="460.20" y1="328.20" y2="330.60" stroke="#2a2a2a" stroke-width="0.8"/>
<text x="460.20" y="337.20" text-anchor="middle">ref</text>
<text x="374.40" y="346.40" text-anchor="middle">l_dim</text>
<text transform="translate(250.40 258.57) rotate(-90)" text-anchor="middle">PSNR [dB]</text>
<text x="374.40" y="183.95" text-anchor="middle" font-size="7.45">Architecture 4</text>
</g>
<g>
<line x1="153.00" x2="365.80" y1="506.40" y2="506.40" stroke="#efefef" stroke-width="0.6"/>
<line x1="153.00" x2="365.80" y1="487.70" y2="487.70" stroke="#efefef" stroke-width="0.6"/>
<line x1="153.00" x2="365.80" y1="469.00" y2="469.00" stroke="#efefef" stroke-width="0.6"/>
<line x1="153.00" x2="365.80" y1="450.30" y2="450.30" stroke="#efefef" stroke-width="0.6"/>
<line x1="153.00" x2="365.80" y1="431.60" y2="431.60" stroke="#efefef" stroke-width="0.6"/>
<line x1="153.00" x2="365.80" y1="412.90" y2="412.90" stroke="#efefef" stroke-width="0.6"/>
<line x1="153.00" x2="365.80" y1="394.20" y2="394.20" stroke="#efefef" stroke-width="0.6"/>
<line x1="153.00" x2="365.80" y1="375.50" y2="375.50" stroke="#efefef" stroke-width="0.6"/>
<g stroke="#383838" stroke-width="1.05" fill="none">
<path d="M158.89 403.18V422.72M158.89 436.27V455.26M157.47 403.18H160.31M157.47 455.26H160.31"/>
<rect x="157.04" y="422.72" width="3.70" height="13.56" fill="#2976ab"/>
<path d="M157.04 429.73H160.74"/>
</g>
<g stroke="#383838" stroke-width="1.05" fill="none">
<path d="M162.67 376.25V402.61M162.67 418.88V444.41M161.25 376.25H164.09M161.25 444.41H164.09"/>
<rect x="160.82" y="402.61" width="3.70" height="16.27" fill="#f0801d"/>
<path d="M160.82 411.68H164.52"/>
</g>
<g stroke="#383838" stroke-width="1.05" fill="none">
<path d="M166.44 394.67V414.49M166.44 426.27V445.25M165.02 394.67H167.86M165.02 445.25H167.86"/>
<rect x="164.59" y="414.49" width="3.70" height="11.78" fill="#339933"/>
<path d="M164.59 420.19H168.30"/>
</g>
<g stroke="#383838" stroke-width="1.05" fill="none">
<path d="M170.22 376.25V402.24M170.22 418.88V443.85M168.80 376.25H171.64M168.80 443.85H171.64"/>
<rect x="168.37" y="402.24" width="3.70" height="16.64" fill="#cb3233"/>
<path d="M168.37 410.75H172.07"/>
</g>
<g stroke="#383838" stroke-width="1.05" fill="none">
<path d="M174.00 404.49V420.57M174.00 431.04V447.31M172.58 404.49H175.42M172.58 447.31H175.42"/>
<rect x="172.15" y="420.57" width="3.70" height="10.47" fill="#946db8"/>
<path d="M172.15 425.90H175.85"/>
</g>
<g stroke="#383838" stroke-width="1.05" fill="none">
<path d="M177.78 386.53V410.19M177.78 425.52V449.55M176.36 386.53H179.20M176.36 449.55H179.20"/>
<rect x="175.93" y="410.19" width="3.70" height="15.33" fill="#88594f"/>
<path d="M175.93 418.32H179.63"/>
</g>
<g stroke="#383838" stroke-width="1.05" fill="none">
<path d="M201.39 404.95V424.21M201.39 437.02V455.72M199.97 404.95H202.81M199.97 455.72H202.81"/>
<rect x="199.54" y="424.21" width="3.70" height="12.81" fill="#2976ab"/>
<path d="M199.54 430.57H203.24"/>
</g>
<g stroke="#383838" stroke-width="1.05" fill="none">
<path d="M205.17 375.69V400.37M205.17 416.36V440.76M203.75 375.69H206.59M203.75 440.76H206.59"/>
<rect x="203.32" y="400.37" width="3.70" height="15.99" fill="#f0801d"/>
<path d="M203.32 408.88H207.02"/>
</g>
<g stroke="#383838" stroke-width="1.05" fill="none">
<path d="M208.94 400.75V417.39M208.94 426.74V442.17M207.52 400.75H210.36M207.52 442.17H210.36"/>
<rect x="207.09" y="417.39" width="3.70" height="9.35" fill="#339933"/>
<path d="M207.09 421.97H210.80"/>
</g>
<g stroke="#383838" stroke-width="1.05" fill="none">
<path d="M212.72 376.34V400.37M212.72 416.36V439.92M211.30 376.34H214.14M211.30 439.92H214.14"/>
<rect x="210.87" y="400.37" width="3.70" height="15.99" fill="#cb3233"/>
<path d="M210.87 408.41H214.57"/>
</g>
<g stroke="#383838" stroke-width="1.05" fill="none">
<path d="M216.50 419.44V430.20M216.50 437.30V448.06M215.08 419.44H217.92M215.08 448.06H217.92"/>
<rect x="214.65" y="430.20" width="3.70" height="7.11" fill="#946db8"/>
<path d="M214.65 433.56H218.35"/>
</g>
<g stroke="#383838" stroke-width="1.05" fill="none">
<path d="M220.28 385.69V408.41M220.28 423.37V446.37M218.86 385.69H221.70M218.86 446.37H221.70"/>
<rect x="218.43" y="408.41" width="3.70" height="14.96" fill="#88594f"/>
<path d="M218.43 416.08H222.13"/>
</g>
<g stroke="#383838" stroke-width="1.05" fill="none">
<path d="M243.89 403.18V424.40M243.89 437.86V459.00M242.47 403.18H245.31M242.47 459.00H245.31"/>
<rect x="242.04" y="424.40" width="3.70" height="13.46" fill="#2976ab"/>
<path d="M242.04 431.23H245.74"/>
</g>
<g stroke="#383838" stroke-width="1.05" fill="none">
<path d="M247.67 375.69V400.00M247.67 415.89V439.73M246.25 375.69H249.09M246.25 439.73H249.09"/>
<rect x="245.82" y="400.00" width="3.70" height="15.90" fill="#f0801d"/>
<path d="M245.82 408.51H249.52"/>
</g>
<g stroke="#383838" stroke-width="1.05" fill="none">
<path d="M251.44 402.24V416.45M251.44 425.34V440.11M250.02 402.24H252.86M250.02 440.11H252.86"/>
<rect x="249.59" y="416.45" width="3.70" height="8.88" fill="#339933"/>
<path d="M249.59 420.75H253.30"/>
</g>
<g stroke="#383838" stroke-width="1.05" fill="none">
<path d="M255.22 376.25V400.00M255.22 415.52V439.17M253.80 376.25H256.64M253.80 439.17H256.64"/>
<rect x="253.37" y="400.00" width="3.70" height="15.52" fill="#cb3233"/>
<path d="M253.37 408.51H257.07"/>
</g>
<g stroke="#383838" stroke-width="1.05" fill="none">
<path d="M259.00 424.59V436.27M259.00 443.47V455.26M257.58 424.59H260.42M257.58 455.26H260.42"/>
<rect x="257.15" y="436.27" width="3.70" height="7.20" fill="#946db8"/>
<path d="M257.15 439.73H260.85"/>
</g>
<g stroke="#383838" stroke-width="1.05" fill="none">
<path d="M262.78 385.60V408.51M262.78 423.47V445.81M261.36 385.60H264.20M261.36 445.81H264.20"/>
<rect x="260.93" y="408.51" width="3.70" height="14.96" fill="#88594f"/>
<path d="M260.93 416.08H264.63"/>
</g>
<g stroke="#383838" stroke-width="1.05" fill="none">
<path d="M286.39 411.31V426.46M286.39 435.90V450.49M284.97 411.31H287.81M284.97 450.49H287.81"/>
<rect x="284.54" y="426.46" width="3.70" height="9.44" fill="#2976ab"/>
<path d="M284.54 431.23H288.24"/>
</g>
<g stroke="#383838" stroke-width="1.05" fill="none">
<path d="M290.17 375.69V400.00M290.17 416.08V440.11M288.75 375.69H291.59M288.75 440.11H291.59"/>
<rect x="288.32" y="400.00" width="3.70" height="16.08" fill="#f0801d"/>
<path d="M288.32 408.51H292.02"/>
</g>
<g stroke="#383838" stroke-width="1.05" fill="none">
<path d="M293.94 396.91V417.01M293.94 430.10V450.11M292.52 396.91H295.36M292.52 450.11H295.36"/>
<rect x="292.09" y="417.01" width="3.70" height="13.09" fill="#339933"/>
<path d="M292.09 423.65H295.80"/>
</g>
<g stroke="#383838" stroke-width="1.05" fill="none">
<path d="M297.72 376.25V400.00M297.72 415.52V439.17M296.30 376.25H299.14M296.30 439.17H299.14"/>
<rect x="295.87" y="400.00" width="3.70" height="15.52" fill="#cb3233"/>
<path d="M295.87 408.51H299.57"/>
</g>
<g stroke="#383838" stroke-width="1.05" fill="none">
<path d="M301.50 425.52V436.65M301.50 443.47V454.69M300.08 425.52H302.92M300.08 454.69H302.92"/>
<rect x="299.65" y="436.65" width="3.70" height="6.83" fill="#946db8"/>
<path d="M299.65 440.11H303.35"/>
</g>
<g stroke="#383838" stroke-width="1.05" fill="none">
<path d="M305.28 386.16V408.51M305.28 423.47V446.37M303.86 386.16H306.70M303.86 446.37H306.70"/>
<rect x="303.43" y="408.51" width="3.70" height="14.96" fill="#88594f"/>
<path d="M303.43 416.08H307.13"/>
</g>
<g stroke="#383838" stroke-width="1.05" fill="none">
<path d="M351.56 394.95V417.67M351.56 431.23V453.48M350.14 394.95H352.98M350.14 453.48H352.98"/>
<rect x="349.70" y="417.67" width="3.70" height="13.56" fill="#dd7ec0"/>
<path d="M349.70 425.06H353.41"/>
</g>
<g stroke="#383838" stroke-width="1.05" fill="none">
<path d="M355.33 400.46V424.31M355.33 439.92V463.86M353.91 400.46H356.75M353.91 463.86H356.75"/>
<rect x="353.48" y="424.31" width="3.70" height="15.61" fill="#7f7f7f"/>
<path d="M353.48 432.44H357.18"/>
</g>
<g stroke="#383838" stroke-width="1.05" fill="none">
<path d="M359.11 486.58V490.50M359.11 494.15V497.33M357.69 486.58H360.53M357.69 497.33H360.53"/>
<rect x="357.26" y="490.50" width="3.70" height="3.65" fill="#adae30"/>
<path d="M357.26 492.19H360.96"/>
</g>
<rect x="153.00" y="366.15" width="212.80" height="140.25" fill="none" stroke="#333" stroke-width="0.6"/>
<line x1="150.60" x2="153.00" y1="506.40" y2="506.40" stroke="#2a2a2a" stroke-width="0.8"/>
<text x="148.10" y="508.95" text-anchor="end">8</text>
<line x1="150.60" x2="153.00" y1="487.70" y2="487.70" stroke="#2a2a2a" stroke-width="0.8"/>
<text x="148.10" y="490.25" text-anchor="end">10</text>
<line x1="150.60" x2="153.00" y1="469.00" y2="469.00" stroke="#2a2a2a" stroke-width="0.8"/>
<text x="148.10" y="471.55" text-anchor="end">12</text>
<line x1="150.60" x2="153.00" y1="450.30" y2="450.30" stroke="#2a2a2a" stroke-width="0.8"/>
<text x="148.10" y="452.85" text-anchor="end">14</text>
<line x1="150.60" x2="153.00" y1="431.60" y2="431.60" stroke="#2a2a2a" stroke-width="0.8"/>
<text x="148.10" y="434.15" text-anchor="end">16</text>
<line x1="150.60" x2="153.00" y1="412.90" y2="412.90" stroke="#2a2a2a" stroke-width="0.8"/>
<text x="148.10" y="415.45" text-anchor="end">18</text>
<line x1="150.60" x2="153.00" y1="394.20" y2="394.20" stroke="#2a2a2a" stroke-width="0.8"/>
<text x="148.10" y="396.75" text-anchor="end">20</text>
<line x1="150.60" x2="153.00" y1="375.50" y2="375.50" stroke="#2a2a2a" stroke-width="0.8"/>
<text x="148.10" y="378.05" text-anchor="end">22</text>
<line x1="174.00" x2="174.00" y1="506.40" y2="508.80" stroke="#2a2a2a" stroke-width="0.8"/>
<text x="174.00" y="515.80" text-anchor="middle">64</text>
<line x1="216.50" x2="216.50" y1="506.40" y2="508.80" stroke="#2a2a2a" stroke-width="0.8"/>
<text x="216.50" y="515.80" text-anchor="middle">128</text>
<line x1="259.00" x2="259.00" y1="506.40" y2="508.80" stroke="#2a2a2a" stroke-width="0.8"/>
<text x="259.00" y="515.80" text-anchor="middle">256</text>
<line x1="301.50" x2="301.50" y1="506.40" y2="508.80" stroke="#2a2a2a" stroke-width="0.8"/>
<text x="301.50" y="515.80" text-anchor="middle">384</text>
<line x1="344.00" x2="344.00" y1="506.40" y2="508.80" stroke="#2a2a2a" stroke-width="0.8"/>
<text x="344.00" y="515.80" text-anchor="middle">ref</text>
<text x="259.00" y="524.60" text-anchor="middle">l_dim</text>
<text transform="translate(135.80 436.77) rotate(-90)" text-anchor="middle">PSNR [dB]</text>
<text x="258.40" y="362.15" text-anchor="middle" font-size="7.45">Architecture 5</text>
</g>
<rect x="489.80" y="214.20" width="54.20" height="87.00" rx="1.3" fill="#fff" stroke="#dadada" stroke-width="0.6"/>
<rect x="492.4" y="217.80" width="12.6" height="4.2" fill="#2976ab" stroke="#383838" stroke-width="0.5"/>
<text x="510" y="222.25">R2R</text>
<rect x="492.4" y="227.22" width="12.6" height="4.2" fill="#f0801d" stroke="#383838" stroke-width="0.5"/>
<text x="510" y="231.67">N2R</text>
<rect x="492.4" y="236.64" width="12.6" height="4.2" fill="#339933" stroke="#383838" stroke-width="0.5"/>
<text x="510" y="241.09">C2C</text>
<rect x="492.4" y="246.06" width="12.6" height="4.2" fill="#cb3233" stroke="#383838" stroke-width="0.5"/>
<text x="510" y="250.51">N2C</text>
<rect x="492.4" y="255.48" width="12.6" height="4.2" fill="#946db8" stroke="#383838" stroke-width="0.5"/>
<text x="510" y="259.93">N2N</text>
<rect x="492.4" y="264.90" width="12.6" height="4.2" fill="#88594f" stroke="#383838" stroke-width="0.5"/>
<text x="510" y="269.35">N2DN</text>
<rect x="492.4" y="274.32" width="12.6" height="4.2" fill="#dd7ec0" stroke="#383838" stroke-width="0.5"/>
<text x="510" y="278.77">BM3D</text>
<rect x="492.4" y="283.74" width="12.6" height="4.2" fill="#7f7f7f" stroke="#383838" stroke-width="0.5"/>
<text x="510" y="288.19">NLM</text>
<rect x="492.4" y="293.16" width="12.6" height="4.2" fill="#adae30" stroke="#383838" stroke-width="0.5"/>
<text x="510" y="297.61">noisy data</text>
</svg>
</body></html>
